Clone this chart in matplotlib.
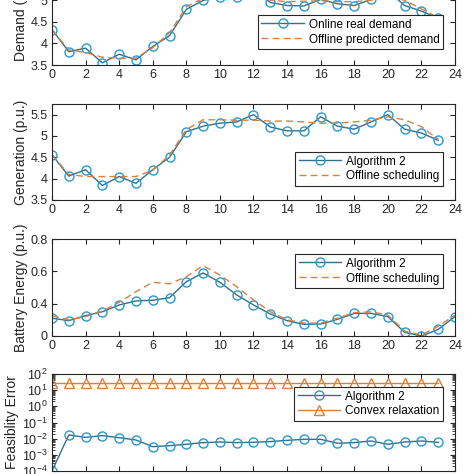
import numpy as np
import matplotlib
matplotlib.use('Agg')
import matplotlib.pyplot as plt
from matplotlib.ticker import LogLocator, NullFormatter

plt.rcParams['font.family'] = ['Liberation Sans', 'DejaVu Sans']

hours = list(range(24))
hours_b = list(range(25))

# demand (p.u.)
demand_real = [4.32, 3.81, 3.89, 3.55, 3.75, 3.62, 3.93, 4.18, 4.79, 5.0, 5.07, 5.08,
               5.25, 4.95, 4.88, 4.87, 5.02, 4.92, 4.88, 5.02, 5.22, 4.88, 4.75, 4.58]
demand_pred = [4.32, 3.85, 3.79, 3.68, 3.66, 3.66, 3.9, 4.25, 4.85, 5.05, 5.1, 5.12,
               5.15, 5.0, 4.97, 4.98, 4.99, 4.97, 4.97, 5.0, 5.1, 5.0, 4.8, 4.6]

# generation (p.u.)
gen_alg = [4.56, 4.06, 4.21, 3.84, 4.05, 3.89, 4.21, 4.5, 5.1, 5.23, 5.3, 5.33,
           5.5, 5.21, 5.12, 5.12, 5.45, 5.23, 5.16, 5.33, 5.5, 5.16, 5.07, 4.9]
gen_off = [4.56, 4.1, 4.05, 4.05, 4.05, 4.05, 4.2, 4.55, 5.15, 5.38, 5.38, 5.37,
           5.37, 5.35, 5.35, 5.33, 5.3, 5.3, 5.33, 5.37, 5.45, 5.38, 5.22, 4.92]

# battery energy (p.u.)
bat_alg = [0.31, 0.295, 0.326, 0.35, 0.392, 0.417, 0.421, 0.437, 0.536, 0.59, 0.532, 0.454,
           0.392, 0.336, 0.295, 0.272, 0.274, 0.303, 0.34, 0.34, 0.32, 0.223, 0.2, 0.241, 0.32]
bat_off = [0.325, 0.3, 0.32, 0.355, 0.408, 0.474, 0.532, 0.523, 0.567, 0.635, 0.577, 0.505,
           0.423, 0.35, 0.3, 0.28, 0.28, 0.31, 0.345, 0.35, 0.33, 0.23, 0.206, 0.26, 0.33]
bat_ticks = [0.2, 0.4, 0.6, 0.8]
bat_ticklabels = ['0', '0.4', '0.6', '0.8']

# feasibility error
err_alg = [1e-4, 0.017, 0.012, 0.0155, 0.0115, 0.0083, 0.0032, 0.0037, 0.0045, 0.0057, 0.0062, 0.0057,
           0.006, 0.0066, 0.0079, 0.0091, 0.0091, 0.0052, 0.0057, 0.0072, 0.0045, 0.0062, 0.0072, 0.0059]
err_cvx = [29] * 24

blue_line = '#33708c'
blue_mk = '#2a98cc'
orange = '#d9803e'
dark = '#262626'

fig = plt.figure(figsize=(4.74, 4.74), dpi=100)
L, W = 52 / 474, 403 / 474

def make_ax(top_px, bot_px):
    ax = fig.add_axes([L, (474 - bot_px) / 474, W, (bot_px - top_px) / 474])
    ax.tick_params(direction='in', top=True, right=True, length=3.5, width=0.8,
                   labelsize=9, colors=dark, pad=3)
    for s in ax.spines.values():
        s.set_color(dark)
        s.set_linewidth(0.8)
    ax.set_xlim(0, 24)
    ax.set_xticks(range(0, 25, 2))
    return ax

def alg_plot(ax, x, y, label):
    ax.plot(x, y, '-o', color=blue_line, lw=1.0, ms=6.5, mfc='none', mec=blue_mk, mew=1.0, label=label)

def legend(ax, y):
    lg = ax.legend(loc='upper right', bbox_to_anchor=(0.97, y), borderaxespad=0, fontsize=8.5,
                   fancybox=False, framealpha=1, edgecolor=dark, handlelength=3.6,
                   borderpad=0.3, labelspacing=0.25, handletextpad=0.4)
    lg.get_frame().set_linewidth(0.8)

# panel 1
ax1 = make_ax(-32, 65)
alg_plot(ax1, hours, demand_real, 'Online real demand')
ax1.plot(hours, demand_pred, color=orange, lw=1.0, ls=(0, (5, 3)), label='Offline predicted demand')
ax1.set_ylim(3.5, 5.75)
ax1.set_yticks([3.5, 4, 4.5, 5, 5.5])
ax1.set_yticklabels(['3.5', '4', '4.5', '5', '5.5'])
ax1.set_ylabel('Demand (p.u.)', fontsize=10, color=dark, labelpad=2)
legend(ax1, 0.515)

# panel 2
ax2 = make_ax(104, 200)
alg_plot(ax2, hours, gen_alg, 'Algorithm 2')
ax2.plot(hours, gen_off, color=orange, lw=1.0, ls=(0, (5, 3)), label='Offline scheduling')
ax2.set_ylim(3.5, 5.75)
ax2.set_yticks([3.5, 4, 4.5, 5, 5.5])
ax2.set_yticklabels(['3.5', '4', '4.5', '5', '5.5'])
ax2.set_ylabel('Generation (p.u.)', fontsize=10, color=dark, labelpad=2)
legend(ax2, 0.5)

# panel 3
ax3 = make_ax(239, 336)
alg_plot(ax3, hours_b, bat_alg, 'Algorithm 2')
ax3.plot(hours_b, bat_off, color=orange, lw=1.0, ls=(0, (5, 3)), label='Offline scheduling')
ax3.set_ylim(0.2, 0.8)
ax3.set_yticks(bat_ticks)
ax3.set_yticklabels(bat_ticklabels)
ax3.set_ylabel('Battery Energy (p.u.)', fontsize=10, color=dark, labelpad=2)
legend(ax3, 0.845)

# panel 4
ax4 = make_ax(374, 471)
alg_plot(ax4, hours, err_alg, 'Algorithm 2')
ax4.plot(hours, err_cvx, '-^', color=orange, lw=1.0, ms=6.5, mfc='none', mec=orange, mew=1.0,
         label='Convex relaxation')
ax4.set_yscale('log')
ax4.set_ylim(1e-4, 1e2)
ax4.set_yticks([10.0 ** k for k in range(-4, 3)])
ax4.yaxis.set_minor_locator(LogLocator(base=10, subs=np.arange(2, 10), numticks=20))
ax4.yaxis.set_minor_formatter(NullFormatter())
ax4.tick_params(which='minor', direction='in', right=True, length=2, width=0.6, colors=dark)
ax4.set_ylabel('Feasiblity Error', fontsize=10, color=dark, labelpad=2)
legend(ax4, 0.866)

fig.savefig('out.png', dpi=100, facecolor='white')
